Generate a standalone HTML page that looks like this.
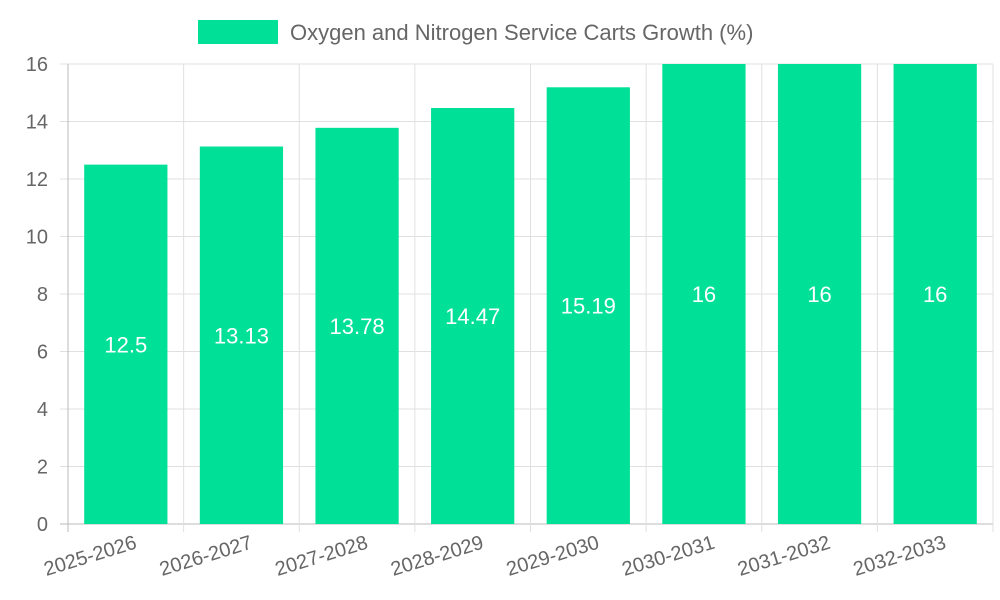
<!DOCTYPE html>
<html><head><meta charset="utf-8"><style>
html,body{margin:0;padding:0;background:#fff;}
svg{display:block;font-family:"Liberation Sans",Arial,sans-serif;}
</style></head><body>
<svg id="chart" width="1000" height="600" viewBox="0 0 1000 600">
<g id="legend">
<rect x="198" y="20" width="80" height="24" fill="#00e096"/>
<text x="290" y="40" font-size="22" fill="#666">Oxygen and Nitrogen Service Carts Growth (%)</text>
</g>
<g id="grid"></g><g id="bars"></g><g id="axes"></g>
</svg>
<script>
const categories=["2025-2026","2026-2027","2027-2028","2028-2029","2029-2030","2030-2031","2031-2032","2032-2033"];
const values=[12.5,13.13,13.78,14.47,15.19,16,16,16];
const yTicks=[0,2,4,6,8,10,12,14,16];
const NS="http://www.w3.org/2000/svg";
const L=68,R=993,T=64,B=524,yMax=16;
const yS=v=>B-(Math.min(v,yMax)/yMax)*(B-T);
const bw=(R-L)/categories.length;
const xS=i=>L+bw*i;
function mk(tag,attrs,parent,text){const e=document.createElementNS(NS,tag);for(const k in attrs)e.setAttribute(k,attrs[k]);if(text!==undefined)e.textContent=text;parent.appendChild(e);return e;}
const grid=document.getElementById('grid'),bars=document.getElementById('bars'),axes=document.getElementById('axes');
yTicks.forEach(t=>{const y=yS(t);
const ln=mk('line',{x1:L-8,x2:R,y1:y,y2:y,stroke:t===0?'#bbb':'#e0e0e0','stroke-width':1},grid);


const tx=mk('text',{x:48,y:y+7,'font-size':20,fill:'#666','text-anchor':'end'},axes,String(t));

});
for(let i=0;i<=categories.length;i++){const x=xS(i);
const ln=mk('line',{x1:x,x2:x,y1:T,y2:B+8,stroke:i===0?'#bbb':'#e0e0e0','stroke-width':1},grid);

}
categories.forEach((c,i)=>{const w=bw*0.72,x=xS(i)+(bw-w)/2,y=yS(values[i]);
const r=mk('rect',{x:x,y:y,width:w,height:B-y,fill:'#00e096'},bars);


const v=mk('text',{x:x+w/2,y:(y+B)/2+8,'font-size':22,fill:'#fff','text-anchor':'middle'},bars,String(values[i]));


const cx=xS(i)+bw/2+12,cy=548;
const lb=mk('text',{x:cx,y:cy,'font-size':20,fill:'#666','text-anchor':'end',transform:`rotate(-17 ${cx} ${cy})`},axes,c);

});
</script>
</body></html>
